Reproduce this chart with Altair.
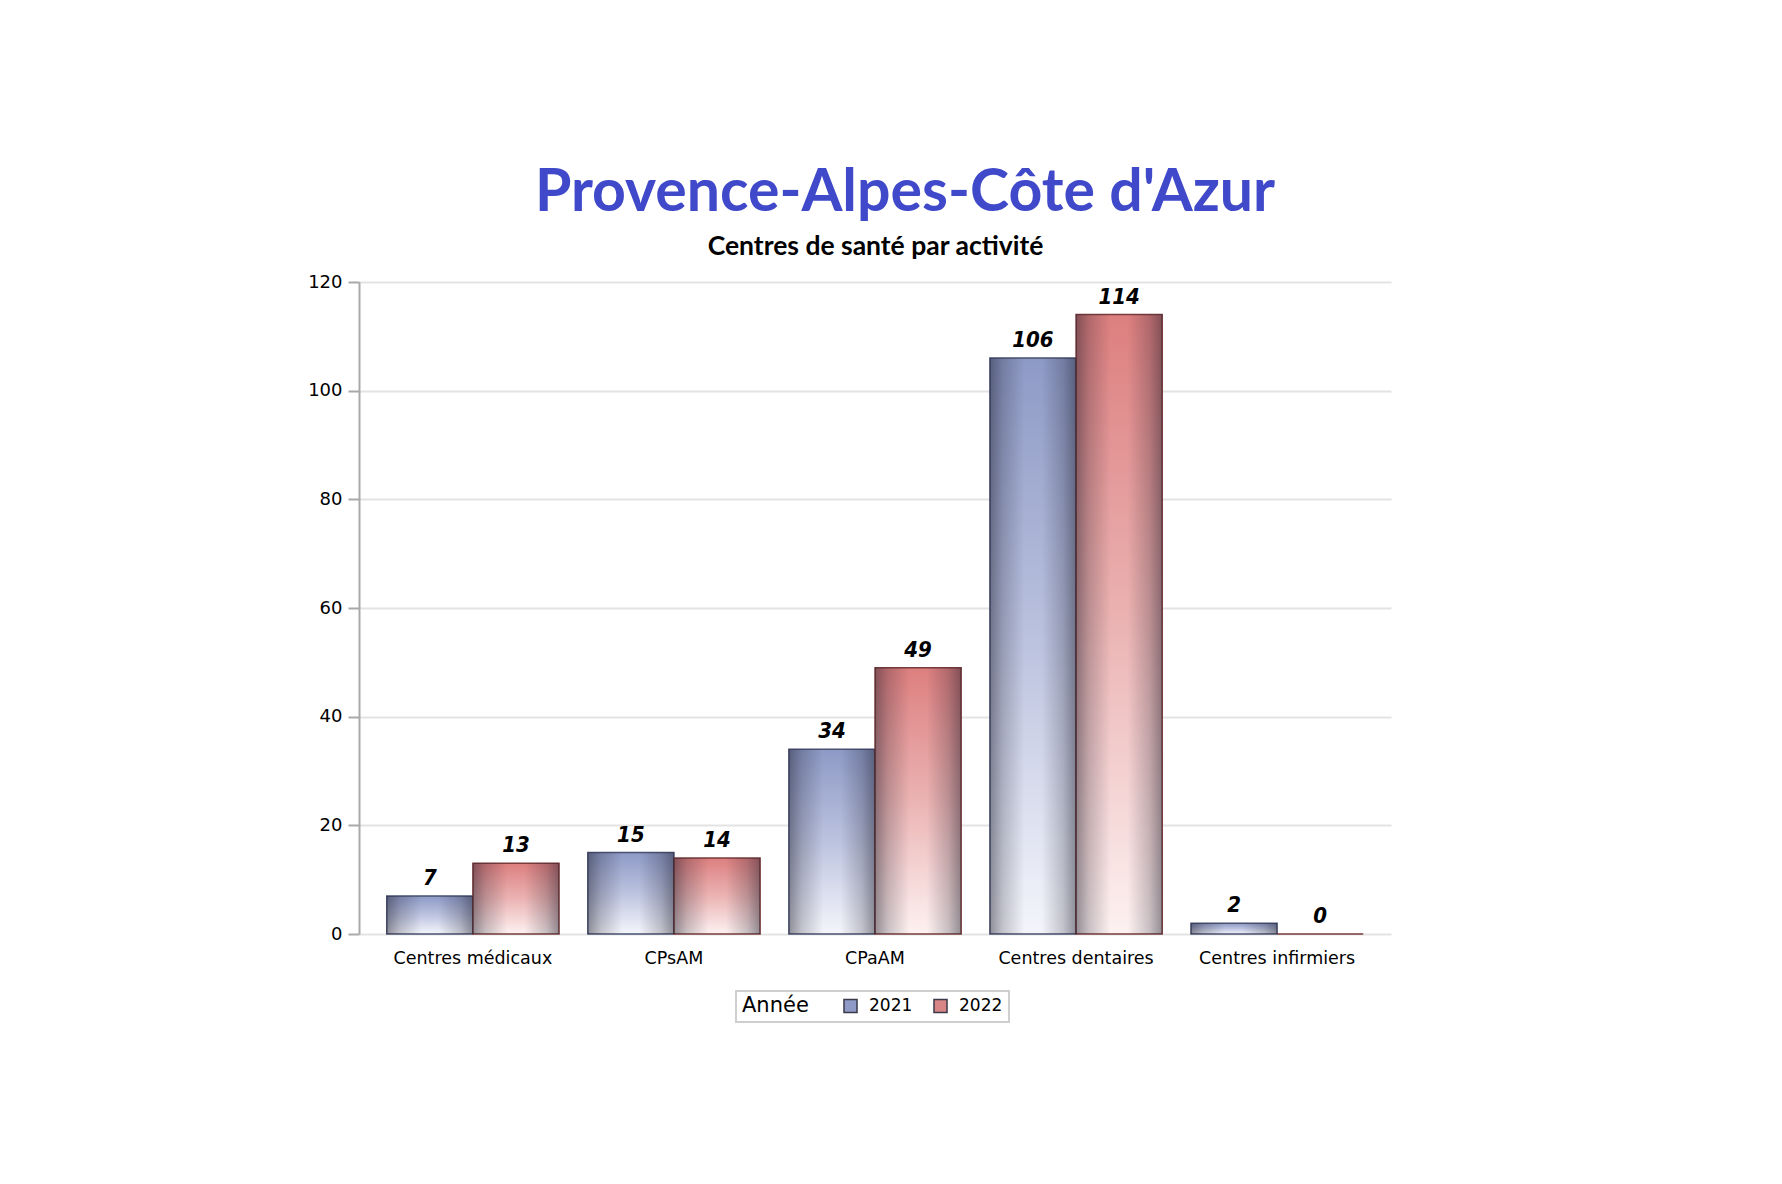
import altair as alt
import pandas as pd

categories = ["Centres médicaux", "CPsAM", "CPaAM", "Centres dentaires", "Centres infirmiers"]
years = ["2021", "2022"]
values_2021 = [7, 15, 34, 106, 2]
values_2022 = [13, 14, 49, 114, 0]
y_ticks = [0, 20, 40, 60, 80, 100, 120]

rows = []
for c, v in zip(categories, values_2021):
    rows.append({"cat": c, "year": "2021", "value": v})
for c, v in zip(categories, values_2022):
    rows.append({"cat": c, "year": "2022", "value": v})
df = pd.DataFrame(rows)

COND = "DejaVu Sans Condensed, DejaVu Sans"
PLOT_W = 1032
PLOT_H = 652

x_enc = alt.X("cat:N", sort=categories, title=None,
              scale=alt.Scale(paddingInner=0.143, paddingOuter=0.138),
              axis=alt.Axis(labelAngle=0, ticks=False, domain=False, labelPadding=15,
                            labelFont="DejaVu Sans", labelFontSize=17.5, labelColor="#000000",
                            grid=False))
y_enc = alt.Y("value:Q", title="Centres de santé par activité",
              scale=alt.Scale(domain=[0, 120], nice=False),
              axis=alt.Axis(values=y_ticks, grid=True, gridColor="#e3e3e3", gridWidth=2,
                            domainColor="#a9a9a9", domainWidth=2, tickColor="#a9a9a9",
                            tickWidth=2, tickSize=11, labelFont="DejaVu Sans", labelFontSize=18,
                            labelColor="#000000", labelPadding=6,
                            titleAngle=0, titleX=PLOT_W / 2, titleY=-28,
                            titleAlign="center", titleBaseline="alphabetic",
                            titleFont="Lato", titleFontSize=26.5, titleFontWeight="bold",
                            titleColor="#000000"))
xo_enc = alt.XOffset("year:N", scale=alt.Scale(domain=years, paddingInner=0, paddingOuter=0))

base = alt.Chart(df)

legend_layer = base.mark_bar(strokeWidth=1.5).encode(
    x=x_enc, y=y_enc, xOffset=xo_enc,
    color=alt.Color("year:N", title="Année",
                    scale=alt.Scale(domain=years, range=["#8f9bc6", "#d98585"]),
                    legend=alt.Legend(orient="none", legendX=377, legendY=709,
                                      direction="horizontal", titleOrient="left",
                                      titleFont="DejaVu Sans", titleFontSize=21,
                                      titleFontWeight="normal", titleColor="#000000",
                                      titlePadding=33,
                                      labelFont="DejaVu Sans", labelFontSize=17,
                                      labelColor="#000000", labelOffset=10,
                                      symbolType="square", symbolSize=170,
                                      symbolStrokeColor="#3a3a4a", symbolStrokeWidth=1.5,
                                      columnPadding=17, padding=6,
                                      strokeColor="#cfcfcf")),
)

grad_blue = {"gradient": "linear", "x1": 0, "y1": 0, "x2": 0, "y2": 1,
             "stops": [{"offset": 0, "color": "#8e9ac6"},
                       {"offset": 0.5, "color": "#bcc3df"},
                       {"offset": 1, "color": "#f4f5fb"}]}
grad_red = {"gradient": "linear", "x1": 0, "y1": 0, "x2": 0, "y2": 1,
            "stops": [{"offset": 0, "color": "#dd7f7f"},
                      {"offset": 0.5, "color": "#ebb3b3"},
                      {"offset": 1, "color": "#fdf1f1"}]}
shade = {"gradient": "linear", "x1": 0, "y1": 0, "x2": 1, "y2": 0,
         "stops": [{"offset": 0, "color": "rgba(20,20,35,0.45)"},
                   {"offset": 0.15, "color": "rgba(20,20,35,0.22)"},
                   {"offset": 0.4, "color": "rgba(20,20,35,0)"},
                   {"offset": 0.6, "color": "rgba(20,20,35,0)"},
                   {"offset": 0.85, "color": "rgba(20,20,35,0.22)"},
                   {"offset": 1, "color": "rgba(20,20,35,0.45)"}]}

bars_2021 = base.transform_filter(alt.datum.year == "2021").mark_bar(
    fill=grad_blue, stroke="#4a5272", strokeWidth=1.5
).encode(x=x_enc, y=y_enc, xOffset=xo_enc)

bars_2022 = base.transform_filter(alt.datum.year == "2022").mark_bar(
    fill=grad_red, stroke="#7a3c3c", strokeWidth=1.5
).encode(x=x_enc, y=y_enc, xOffset=xo_enc)

shade_layer = base.mark_bar(fill=shade, strokeWidth=0).encode(
    x=x_enc, y=y_enc, xOffset=xo_enc)

text_layer = base.mark_text(font=COND, fontSize=22, fontWeight="bold",
                            fontStyle="italic", baseline="bottom", dy=-6,
                            color="#000000").encode(
    x=x_enc, y=y_enc, xOffset=xo_enc, text=alt.Text("value:Q"))

chart = alt.layer(legend_layer, bars_2021, bars_2022, shade_layer, text_layer).properties(
    width=PLOT_W, height=PLOT_H,
    title=alt.TitleParams(text="Provence-Alpes-Côte d'Azur",
                          font="Lato", fontSize=59, fontWeight="bold", color="#4049c9",
                          anchor="middle", offset=10, dx=30),
    autosize=alt.AutoSizeParams(type="none"),
    padding={"left": 351, "top": 274, "right": 370, "bottom": 226},
    background="#ffffff",
).configure_view(stroke=None).configure_legend(strokeWidth=2)

chart.save("out.html", embed_options={"renderer": "svg", "actions": False})
